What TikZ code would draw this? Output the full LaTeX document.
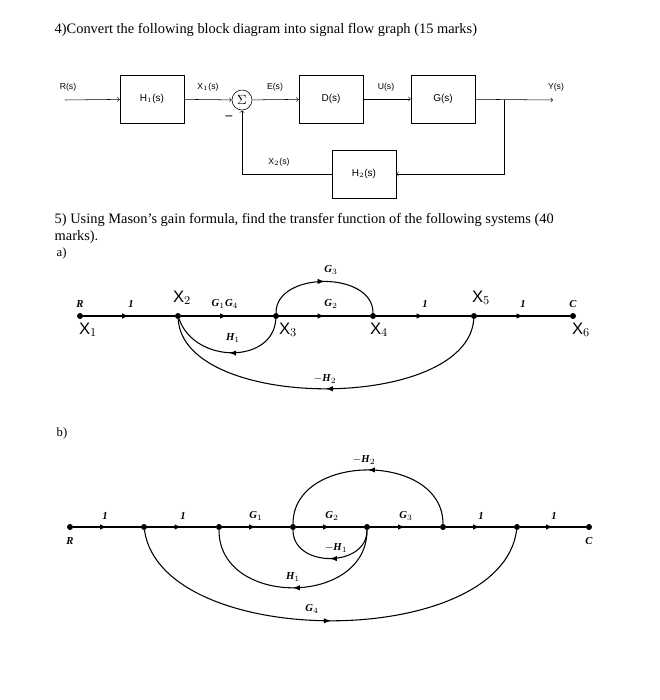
\documentclass[tikz,border=0pt]{standalone}
\usepackage{fontspec}
\setmainfont{Liberation Serif}
\newfontfamily\blkfont{Liberation Sans}
\usetikzlibrary{decorations.markings}
\tikzset{
  blk/.style={draw, minimum width=48pt, minimum height=36pt, font=\blkfont\fontsize{7.5}{8}\selectfont},
  sig/.style={font=\blkfont\fontsize{6.5}{7}\selectfont},
  dot/.style={circle, fill, inner sep=0pt, minimum size=4.5pt},
  gain/.style={font=\bfseries\itshape\fontsize{8}{9}\selectfont},
  xl/.style={font=\blkfont\fontsize{12.5}{13}\selectfont},
  branch/.style={thick, decoration={markings, mark=at position #1 with {\arrow{latex}}}, postaction={decorate}},
  branch/.default=0.5
}
\begin{document}
\begin{tikzpicture}[x=0.75pt, y=-0.75pt]
  \useasboundingbox (0,0) rectangle (660,700);
  % text lines
  \node[anchor=west, font=\fontsize{10.8}{13}\selectfont] at (50,30) {4)Convert the following block diagram into signal flow graph (15 marks)};
  \node[anchor=west, font=\fontsize{10.8}{13}\selectfont] at (50,220) {5) Using Mason's gain formula, find the transfer function of the following systems (40};
  \node[anchor=west, font=\fontsize{10.8}{13}\selectfont] at (50,237) {marks).};
  \node[anchor=west, font=\fontsize{9.5}{10}\selectfont] at (52,253) {a)};
  \node[anchor=west, font=\fontsize{9.5}{10}\selectfont] at (52,433) {b)};

  % block diagram
  \coordinate (r) at (65,100);
  \node[blk] (h1) at (152,99) {H$_1$(s)};
  \node[draw, circle, minimum size=15pt, inner sep=0pt] (sum) at (242,100) {$\Sigma$};
  \node[blk] (d) at (331,99) {D(s)};
  \node[blk] (g) at (443,99) {G(s)};
  \node[blk] (h2) at (364,174) {H$_2$(s)};
  \coordinate (y) at (553,100);
  \coordinate (br) at (504,100);
  \coordinate (fb) at (504,174);
  \coordinate (fl) at (242,174);
  \draw[->] (r) -- (h1);
  \draw[->] (h1) -- (sum);
  \draw[->] (sum) -- (d);
  \draw[->] (d) -- (g);
  \draw[->] (g) -- (y);
  \draw[->] (br) -- (fb) -- (h2.east);
  \draw[->] (h2.west) -- (fl) -- (sum.south);
  \node[sig] at (68,87) {R(s)};
  \node[sig] at (208,87) {X$_1$(s)};
  \node[sig] at (275,87) {E(s)};
  \node[sig] at (386,87) {U(s)};
  \node[sig] at (556,87) {Y(s)};
  \node[sig] at (279,162) {X$_2$(s)};
  \node[font=\bfseries] at (229,118) {--};

  % graph a
  \foreach \n/\x in {1/80, 2/178, 3/276, 4/373, 5/474, 6/573}
    \node[dot] (a\n) at (\x,316) {};
  \draw[branch] (a1) -- (a2);
  \draw[branch] (a2) -- (a3);
  \draw[branch] (a3) -- (a4);
  \draw[branch] (a4) -- (a5);
  \draw[branch] (a5) -- (a6);
  \draw[branch] (a3) .. controls (276,271) and (373,271) .. (a4);
  \draw[branch] (a3) .. controls (273,364) and (195,364) .. (a2);
  \draw[branch] (a5) .. controls (467,412) and (184,412) .. (a2);
  \node[gain] at (80,304) {R};
  \node[gain] at (131,304) {1};
  \node[gain] at (225,304) {G$_1$G$_4$};
  \node[gain] at (331,304) {G$_2$};
  \node[gain] at (331,270) {G$_3$};
  \node[gain] at (425,304) {1};
  \node[gain] at (523,304) {1};
  \node[gain] at (573,304) {C};
  \node[gain] at (233,338) {H$_1$};
  \node[gain] at (325,379) {$-$H$_2$};
  \node[xl] at (182,298) {X$_2$};
  \node[xl] at (481,298) {X$_5$};
  \node[xl] at (88,330) {X$_1$};
  \node[xl] at (288,330) {X$_3$};
  \node[xl] at (379,330) {X$_4$};
  \node[xl] at (581,330) {X$_6$};

  % graph b
  \foreach \n/\x in {1/70, 2/144, 3/219, 4/293, 5/367, 6/443, 7/517, 8/589}
    \node[dot] (b\n) at (\x,527) {};
  \foreach \i/\j in {1/2, 2/3, 3/4, 4/5, 5/6, 6/7, 7/8}
    \draw[branch] (b\i) -- (b\j);
  \draw[branch] (b6) .. controls (443,452) and (293,452) .. (b4);
  \draw[branch] (b5) .. controls (367,568) and (293,568) .. (b4);
  \draw[branch] (b5) .. controls (367,607) and (219,607) .. (b3);
  \draw[branch] (b2) .. controls (162,651) and (501,651) .. (b7);
  \node[gain] at (105,516) {1};
  \node[gain] at (183,516) {1};
  \node[gain] at (256,516) {G$_1$};
  \node[gain] at (332,516) {G$_2$};
  \node[gain] at (406,516) {G$_3$};
  \node[gain] at (481,516) {1};
  \node[gain] at (554,516) {1};
  \node[gain] at (70,541) {R};
  \node[gain] at (589,541) {C};
  \node[gain] at (364,460) {$-$H$_2$};
  \node[gain] at (336,548) {$-$H$_1$};
  \node[gain] at (293,577) {H$_1$};
  \node[gain] at (312,609) {G$_4$};
\end{tikzpicture}
\end{document}
